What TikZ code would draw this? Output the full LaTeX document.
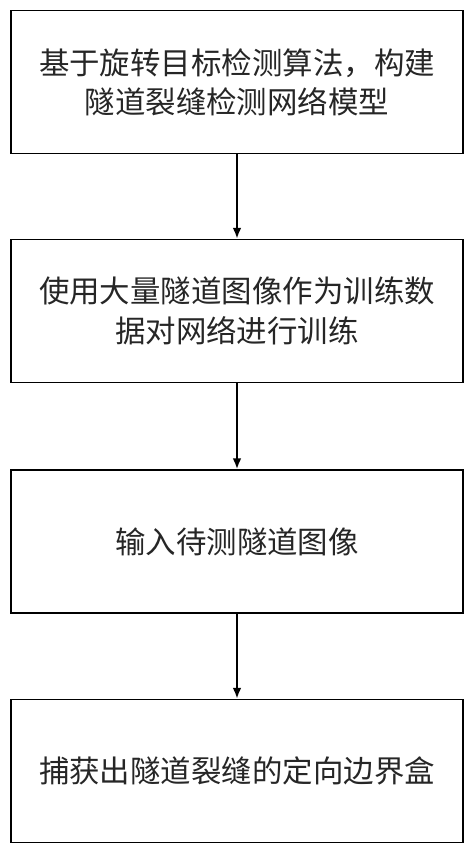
\documentclass[tikz,border=0pt]{standalone}
\usepackage{fontspec}
\setmainfont{Noto Sans CJK SC}
\usetikzlibrary{arrows.meta}

\begin{document}
\begin{tikzpicture}[auto, line width=0.55mm, >={Latex[length=3.2mm, width=2.6mm]},
    stepbox/.style={draw, minimum width=13.56cm, minimum height=4.29cm, align=center, inner sep=0pt, font=\fontsize{26}{33.5}\selectfont, text=black!85}]
    \useasboundingbox (0,0) rectangle (14.22,-25.65);
    \node[stepbox] at (7.11, -2.46)   (A) {基于旋转目标检测算法，构建\\隧道裂缝检测网络模型};
    \node[stepbox] at (7.11, -9.33)   (B) {使用大量隧道图像作为训练数\\据对网络进行训练};
    \node[stepbox] at (7.11, -16.245) (C) {输入待测隧道图像};
    \node[stepbox] at (7.11, -23.13)  (D) {捕获出隧道裂缝的定向边界盒};

    \draw[->] (A.south) -- (B.north);
    \draw[->] (B.south) -- (C.north);
    \draw[->] (C.south) -- (D.north);

\end{tikzpicture}
\end{document}
